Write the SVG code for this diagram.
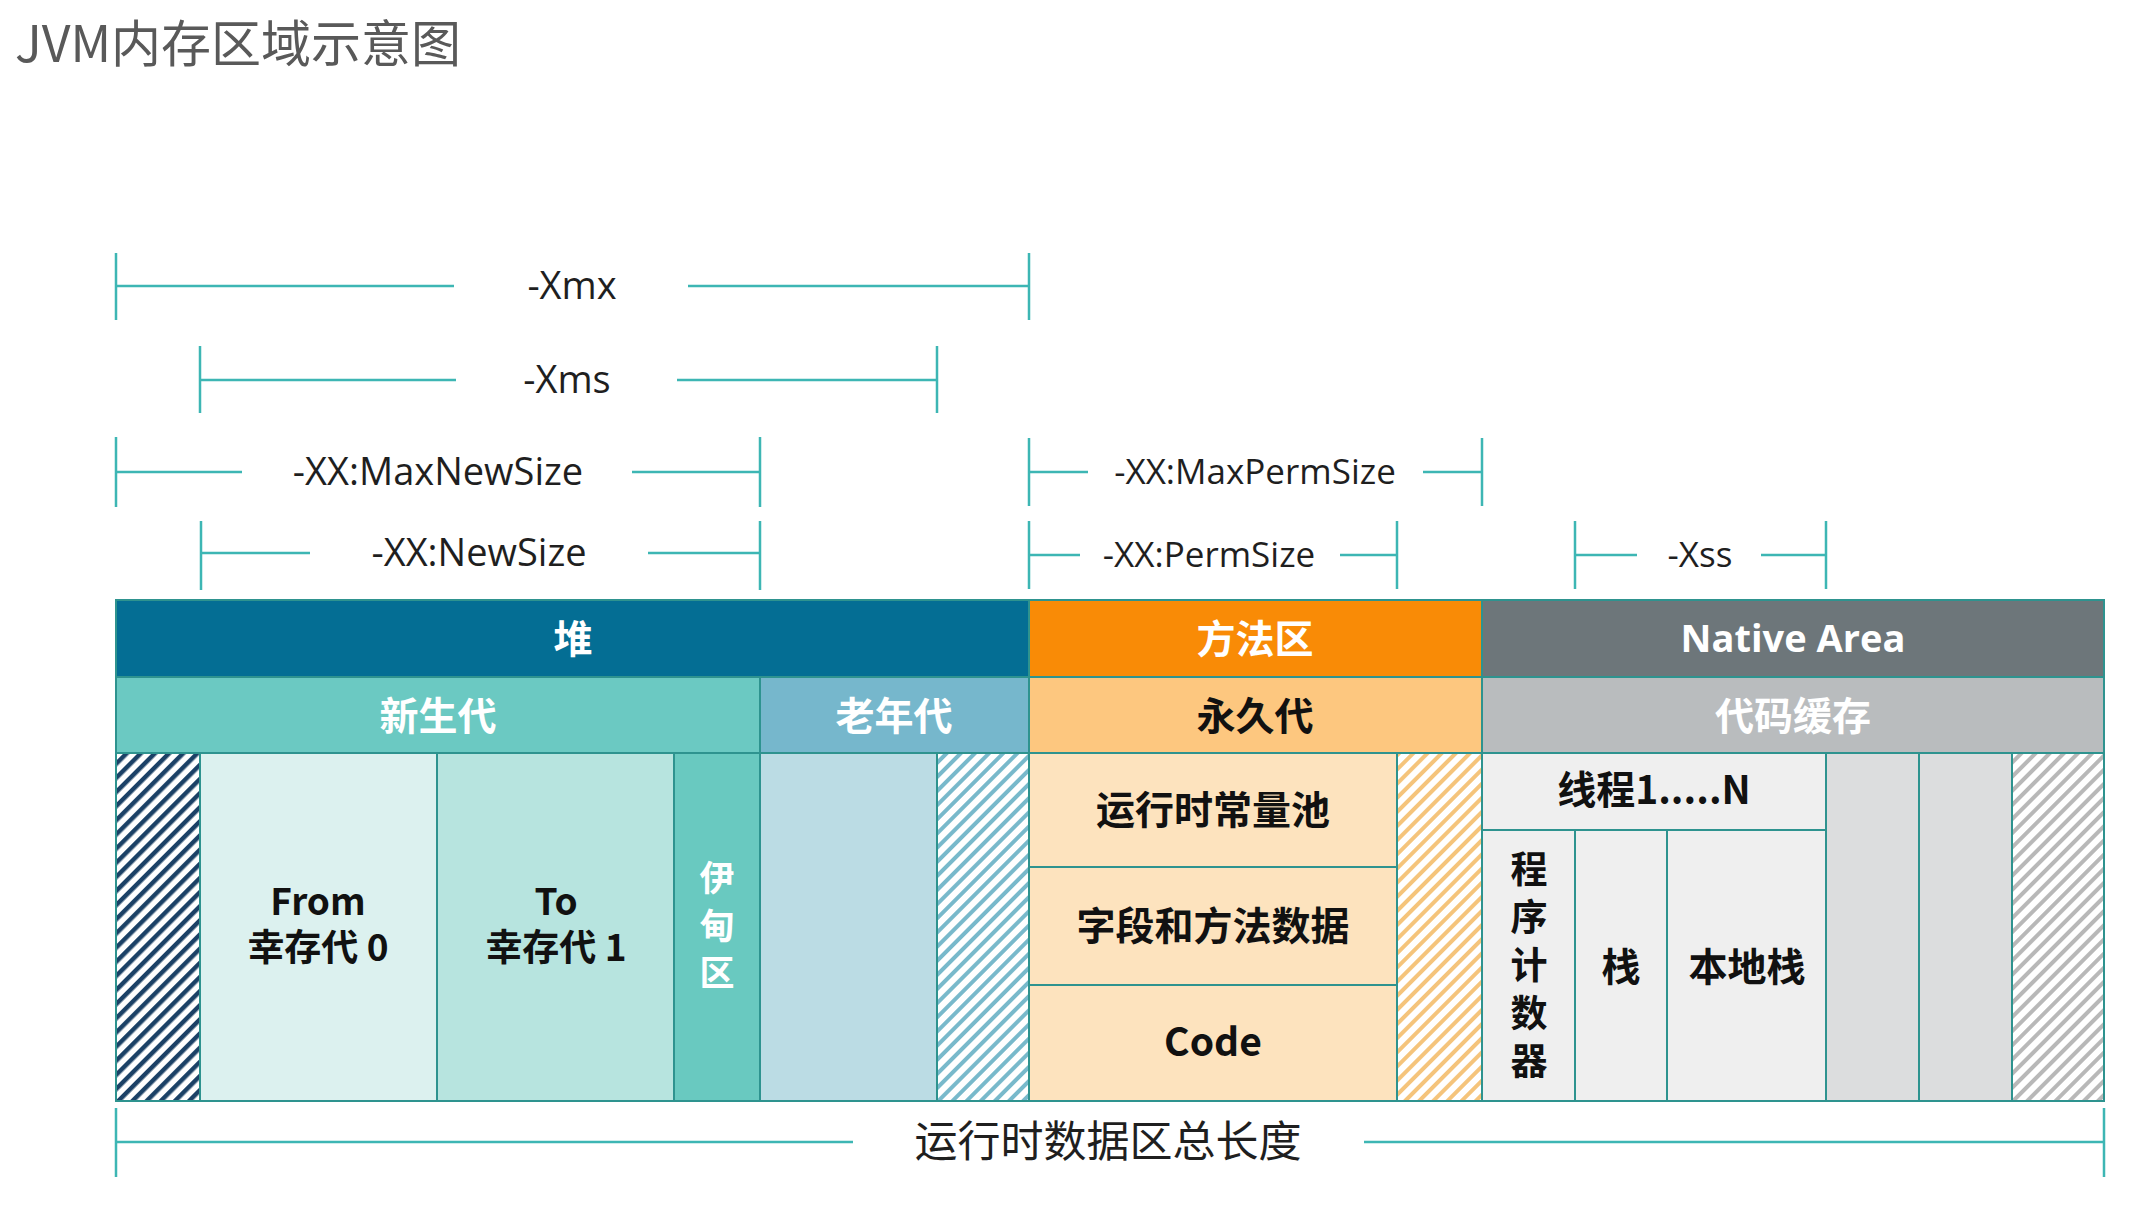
<svg xmlns="http://www.w3.org/2000/svg" width="2148" height="1214" viewBox="0 0 2148 1214">
<style>
.cell{stroke:#2E938F;stroke-width:2}
.hdr{font-family:"Noto Sans CJK SC","Noto Sans",sans-serif;font-weight:700;font-size:39px;text-anchor:middle;fill:#FFFFFF}
.hdrl{font-family:"Open Sans","Noto Sans",sans-serif;font-weight:700;font-size:38px;text-anchor:middle;fill:#FFFFFF}
.body{font-family:"Noto Sans CJK SC","Noto Sans",sans-serif;font-weight:700;font-size:39px;text-anchor:middle;fill:#111111}
.two{font-size:37px}
.vert{font-size:37px}
.dim{stroke:#3DB6B4;stroke-width:2.5;fill:none}
.dl{font-family:"Open Sans","Noto Sans",sans-serif;font-size:38px;text-anchor:middle;fill:#1F1F1F}
.dr{font-family:"Open Sans","Noto Sans",sans-serif;font-size:35px;text-anchor:middle;fill:#1F1F1F}
</style>
<defs>
<pattern id="hNavy" width="10" height="10" patternUnits="userSpaceOnUse" patternTransform="rotate(45)"><rect width="10" height="10" fill="#FFFFFF"/><rect width="4.5" height="10" fill="#1B4166"/></pattern>
<pattern id="hBlue" width="10" height="10" patternUnits="userSpaceOnUse" patternTransform="rotate(45)"><rect width="10" height="10" fill="#FFFFFF"/><rect width="4" height="10" fill="#78B9CB"/></pattern>
<pattern id="hOrange" width="10" height="10" patternUnits="userSpaceOnUse" patternTransform="rotate(45)"><rect width="10" height="10" fill="#FFFFFF"/><rect width="4" height="10" fill="#F5C47B"/></pattern>
<pattern id="hGray" width="10" height="10" patternUnits="userSpaceOnUse" patternTransform="rotate(45)"><rect width="10" height="10" fill="#FFFFFF"/><rect width="4" height="10" fill="#B8B8B8"/></pattern>
</defs>
<rect width="2148" height="1214" fill="#FFFFFF"/>
<text id="title" x="15" y="62" font-family="Noto Sans CJK SC, sans-serif" font-size="50" fill="#595959">JVM内存区域示意图</text>

<g id="connectors">
  <g id="dim-xmx"><path class="dim" d="M116 253V320M1029 253V320M116 286H454M688 286H1029"/><text class="dl" x="572" y="299">-Xmx</text></g>
  <g id="dim-xms"><path class="dim" d="M200 346V413M937 346V413M200 380H456M677 380H937"/><text class="dl" x="567" y="393">-Xms</text></g>
  <g id="dim-maxnew"><path class="dim" d="M116 437V507M760 437V507M116 472H242M632 472H760"/><text class="dl" x="438" y="485">-XX:MaxNewSize</text></g>
  <g id="dim-new"><path class="dim" d="M201 521V590M760 521V590M201 553H310M648 553H760"/><text class="dl" x="479" y="566">-XX:NewSize</text></g>
  <g id="dim-maxperm"><path class="dim" d="M1029 438V506M1482 438V506M1029 472H1088M1423 472H1482"/><text class="dr" x="1255" y="484">-XX:MaxPermSize</text></g>
  <g id="dim-perm"><path class="dim" d="M1029 521V589M1397 521V589M1029 555H1080M1340 555H1397"/><text class="dr" x="1209" y="567">-XX:PermSize</text></g>
  <g id="dim-xss"><path class="dim" d="M1575 521V589M1826 521V589M1575 555H1637M1761 555H1826"/><text class="dr" x="1700" y="567">-Xss</text></g>
  <g id="dim-total"><path class="dim" d="M116 1108V1177M2104 1108V1177M116 1142H853M1364 1142H2104"/><text x="1108" y="1157" font-family="Noto Sans CJK SC, sans-serif" font-size="43" text-anchor="middle" fill="#1F1F1F">运行时数据区总长度</text></g>
</g>

<g id="heap"><rect class="cell" x="116" y="600" width="913" height="77" fill="#046E94"/><text class="hdr" x="573" y="653">堆</text></g>
<g id="method-area"><rect class="cell" x="1029" y="600" width="453" height="77" fill="#F98B06"/><text class="hdr" x="1255" y="653">方法区</text></g>
<g id="native-area"><rect class="cell" x="1482" y="600" width="622" height="77" fill="#6D767A"/><text class="hdrl" x="1793" y="652">Native Area</text></g>

<g id="young"><rect class="cell" x="116" y="677" width="644" height="76" fill="#6BC9C2"/><text class="hdr" x="438" y="730">新生代</text></g>
<g id="old"><rect class="cell" x="760" y="677" width="269" height="76" fill="#76B7CC"/><text class="hdr" x="894" y="730">老年代</text></g>
<g id="perm"><rect class="cell" x="1029" y="677" width="453" height="76" fill="#FDC77F"/><text class="hdr" x="1255" y="730" style="fill:#111111">永久代</text></g>
<g id="code-cache"><rect class="cell" x="1482" y="677" width="622" height="76" fill="#B9BCBE"/><text class="hdr" x="1793" y="730">代码缓存</text></g>

<g id="young-reserved"><rect class="cell" x="116" y="753" width="84" height="348" fill="url(#hNavy)"/></g>
<g id="from"><rect class="cell" x="200" y="753" width="237" height="348" fill="#DCF1EF"/><text class="body two"><tspan x="318" y="915">From</tspan><tspan x="318" y="961">幸存代 0</tspan></text></g>
<g id="to"><rect class="cell" x="437" y="753" width="237" height="348" fill="#B7E4DF"/><text class="body two"><tspan x="556" y="915">To</tspan><tspan x="556" y="961">幸存代 1</tspan></text></g>
<g id="eden"><rect class="cell" x="674" y="753" width="86" height="348" fill="#69C9C0"/><text class="body" style="fill:#FFFFFF;font-size:35px"><tspan x="717" y="891">伊</tspan><tspan x="717" y="939">甸</tspan><tspan x="717" y="986">区</tspan></text></g>
<g id="old-body"><rect class="cell" x="760" y="753" width="177" height="348" fill="#BBDCE4"/></g>
<g id="old-reserved"><rect class="cell" x="937" y="753" width="92" height="348" fill="url(#hBlue)"/></g>
<g id="runtime-constant-pool"><rect class="cell" x="1029" y="753" width="368" height="114" fill="#FDE3BE"/><text class="body" x="1213" y="824">运行时常量池</text></g>
<g id="field-method-data"><rect class="cell" x="1029" y="867" width="368" height="118" fill="#FDE3BE"/><text class="body" x="1213" y="940">字段和方法数据</text></g>
<g id="code"><rect class="cell" x="1029" y="985" width="368" height="116" fill="#FDE3BE"/><text class="body" x="1213" y="1056">Code</text></g>
<g id="perm-reserved"><rect class="cell" x="1397" y="753" width="85" height="348" fill="url(#hOrange)"/></g>
<g id="threads"><rect class="cell" x="1482" y="753" width="344" height="77" fill="#EFEFEF"/><text class="body" x="1654" y="804">线程1.....N</text></g>
<g id="pc-register"><rect class="cell" x="1482" y="830" width="93" height="271" fill="#EFEFEF"/><text class="body vert"><tspan x="1529" y="883">程</tspan><tspan x="1529" y="931">序</tspan><tspan x="1529" y="979">计</tspan><tspan x="1529" y="1027">数</tspan><tspan x="1529" y="1075">器</tspan></text></g>
<g id="stack"><rect class="cell" x="1575" y="830" width="92" height="271" fill="#EFEFEF"/><text class="body" x="1621" y="981">栈</text></g>
<g id="native-stack"><rect class="cell" x="1667" y="830" width="159" height="271" fill="#EFEFEF"/><text class="body" x="1747" y="981">本地栈</text></g>
<g id="native-col1"><rect class="cell" x="1826" y="753" width="93" height="348" fill="#DCDDDE"/></g>
<g id="native-col2"><rect class="cell" x="1919" y="753" width="93" height="348" fill="#DCDDDE"/></g>
<g id="native-reserved"><rect class="cell" x="2012" y="753" width="92" height="348" fill="url(#hGray)"/></g>
</svg>
